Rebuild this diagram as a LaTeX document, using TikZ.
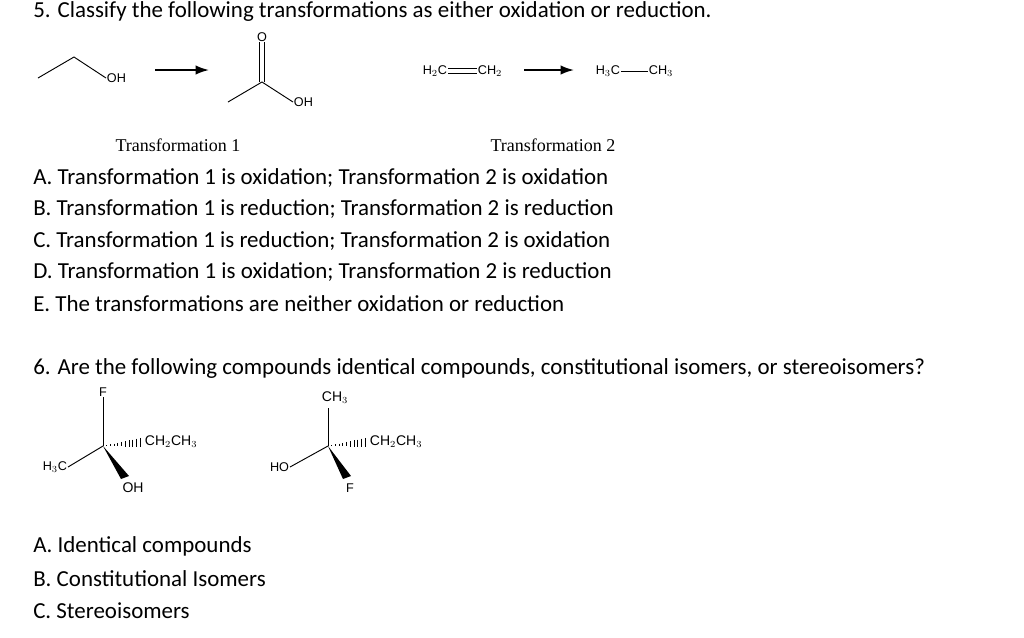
\documentclass[tikz,border=0pt]{standalone}
\usepackage{fontspec}
\usetikzlibrary{arrows.meta,calc}
\setmainfont{Carlito}
\newfontfamily\chem{Liberation Sans}
\newfontfamily\ser{Liberation Serif}
\begin{document}
\begin{tikzpicture}[x=0.75pt,y=-0.75pt,
 txt/.style={anchor=west,inner sep=0,font=\fontsize{17.2}{19}\selectfont},
 atm/.style={inner sep=0.5pt,font=\chem\fontsize{9.5}{10}\selectfont},
 atmb/.style={inner sep=0.5pt,font=\chem\fontsize{10.5}{11}\selectfont},
 bond/.style={line width=0.7pt},
 rx/.style={line width=1.3pt,-{Latex[length=10pt,width=7pt]}},
 capt/.style={inner sep=0,font=\ser\fontsize{13.5}{14}\selectfont}]
\useasboundingbox (0,0) rectangle (1024,637);
\fill[white] (0,0) rectangle (1024,637);
\node[txt] (q5) at (33,12) {5. Classify the following transformations as either oxidation or reduction.};
% transformation 1
\coordinate (e1) at (38,78); \coordinate (e2) at (74,57);
\node[atm,anchor=west] (oh1) at (106,78) {OH};
\draw[bond] (e1)--(e2)--(oh1.west);
\coordinate (a1) at (155,70); \coordinate (a2) at (209,70);
\draw[rx] (a1)--(a2);
\coordinate (c1) at (228,102); \coordinate (c2) at (262,82);
\node[atm] (o1) at (262,37) {O};
\node[atm,anchor=west] (oh2) at (293,102) {OH};
\draw[bond] (c1)--(c2)--(oh2.west);
\draw[bond] ([xshift=-1.6]c2)--([xshift=-1.6]o1.south);
\draw[bond] ([xshift=1.6]c2)--([xshift=1.6]o1.south);
% transformation 2
\node[atm,anchor=east] (h2c) at (448,71) {H$_2$C};
\node[atm,anchor=west] (ch2) at (477,71) {CH$_2$};
\draw[bond] ([yshift=-1.6]h2c.east)--([yshift=-1.6]ch2.west);
\draw[bond] ([yshift=1.6]h2c.east)--([yshift=1.6]ch2.west);
\coordinate (b1) at (524,70); \coordinate (b2) at (574,70);
\draw[rx] (b1)--(b2);
\node[atm,anchor=east] (h3c) at (621,71) {H$_3$C};
\node[atm,anchor=west] (ch3) at (648,71) {CH$_3$};
\draw[bond] (h3c.east)--(ch3.west);
\node[capt] (t1) at (178,145) {Transformation 1};
\node[capt] (t2) at (553,145) {Transformation 2};
\node[txt] (oa) at (33,178) {A.\ Transformation 1 is oxidation; Transformation 2 is oxidation};
\node[txt] (ob) at (33,209) {B.\ Transformation 1 is reduction; Transformation 2 is reduction};
\node[txt] (oc) at (33,241) {C.\ Transformation 1 is reduction; Transformation 2 is oxidation};
\node[txt] (od) at (33,272) {D. Transformation 1 is oxidation; Transformation 2 is reduction};
\node[txt] (oe) at (33,304) {E.\ The transformations are neither oxidation or reduction};
\node[txt] (q6) at (33,368) {6. Are the following compounds identical compounds, constitutional isomers, or stereoisomers?};
% molecule 1
\coordinate (m1) at (103,446);
\node[atm] (f1) at (103,392) {F};
\node[atm,anchor=east] (me1) at (68,467) {H$_3$C};
\node[atmb,anchor=west] (et1) at (144,442) {CH$_2$CH$_3$};
\node[atmb] (oh3) at (133,488) {OH};
\draw[bond] (m1)--(f1.south);
\draw[bond] (m1)--(me1.east);
\foreach \i in {1,...,10} \draw[line width=0.7pt] ($(m1)!{\i/11}!(et1.west)+(0,-\i*0.45)$)--($(m1)!{\i/11}!(et1.west)+(0,\i*0.45)$);
\fill (m1)--(121,479)--(129,476)--cycle;
% molecule 2
\coordinate (m2) at (328,446);
\node[atmb] (me2) at (335,398) {CH$_3$};
\node[atm,anchor=east] (ho2) at (290,467) {HO};
\node[atmb,anchor=west] (et2) at (369,442) {CH$_2$CH$_3$};
\node[atm] (f2) at (350,488) {F};
\draw[bond] (m2)--(328,408);
\draw[bond] (m2)--(ho2.east);
\foreach \i in {1,...,10} \draw[line width=0.7pt] ($(m2)!{\i/11}!(et2.west)+(0,-\i*0.45)$)--($(m2)!{\i/11}!(et2.west)+(0,\i*0.45)$);
\fill (m2)--(343,479)--(351,476)--cycle;
\node[txt] (pa) at (33,546) {A.\ Identical compounds};
\node[txt] (pb) at (33,579) {B.\ Constitutional Isomers};
\node[txt] (pc) at (33,611) {C.\ Stereoisomers};
\end{tikzpicture}
\end{document}
